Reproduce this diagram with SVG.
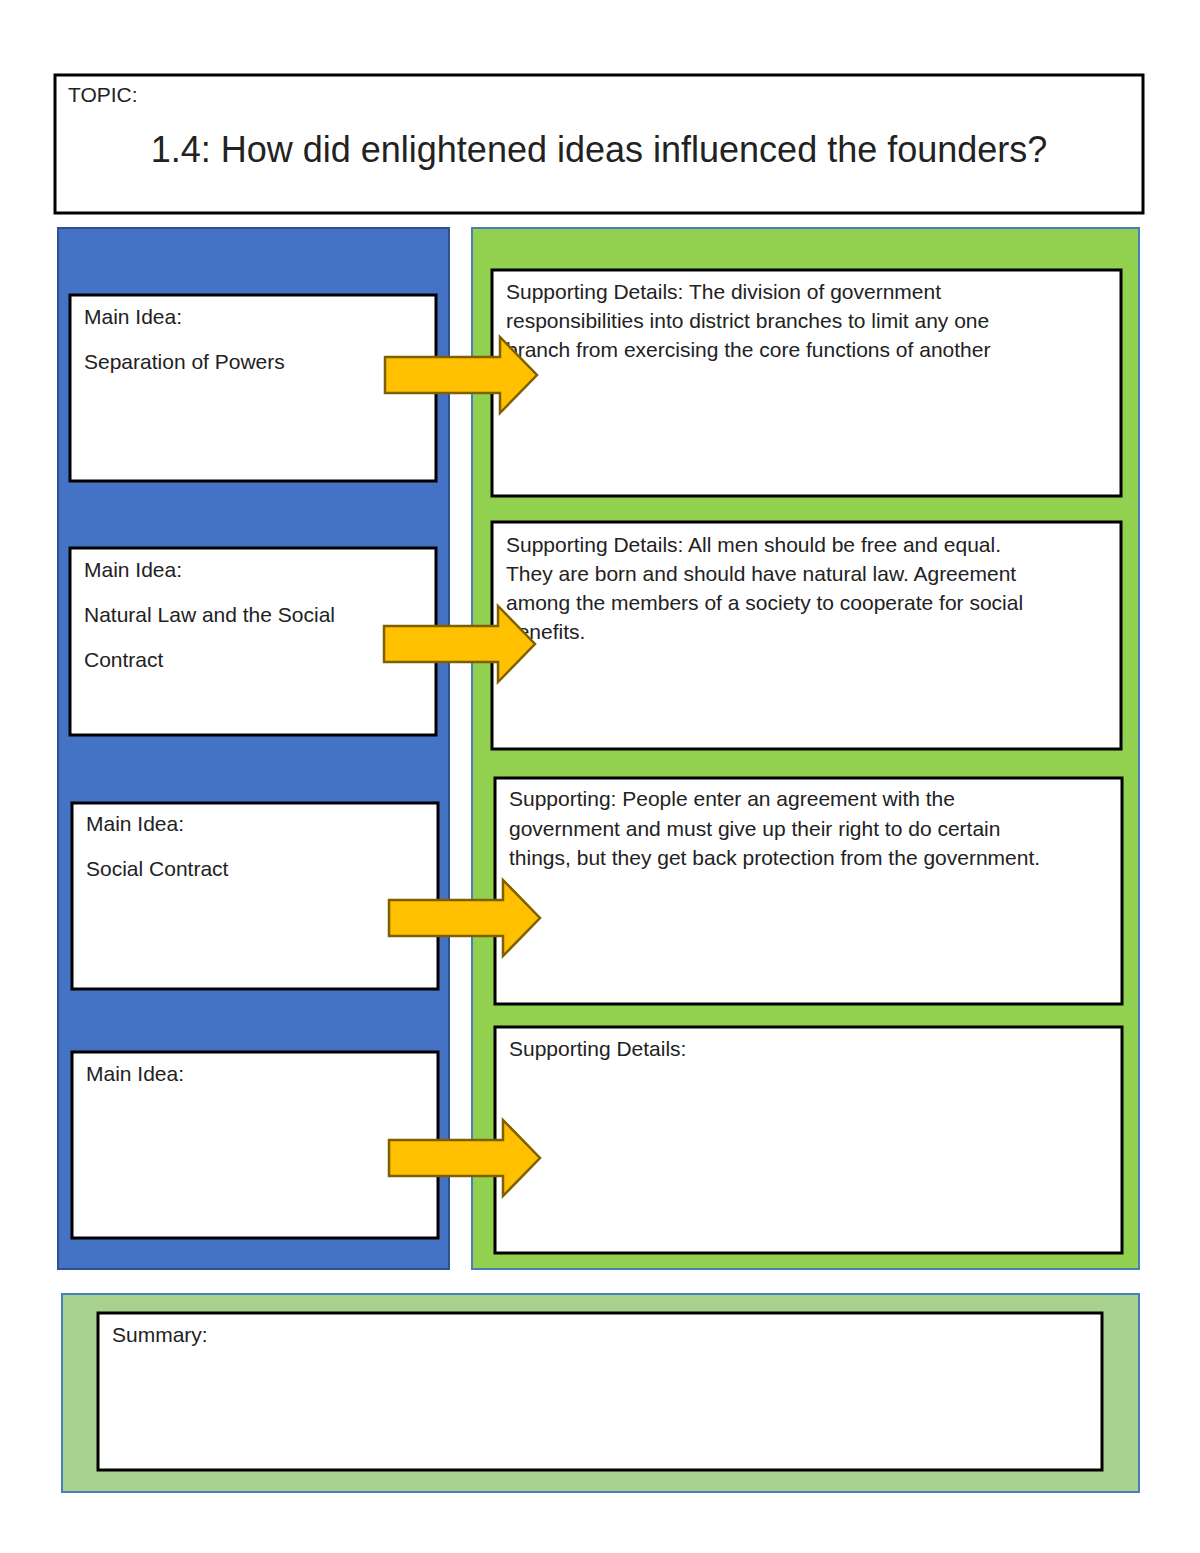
<svg xmlns="http://www.w3.org/2000/svg" width="1200" height="1553" viewBox="0 0 1200 1553">
<style>
.box{fill:#fff;stroke:#000;stroke-width:3}
.t{font-family:"Liberation Sans",Arial,sans-serif;font-size:21px;fill:#222}
.arrow{fill:#ffc000;stroke:#7f6000;stroke-width:2.5}
</style>
<rect width="1200" height="1553" fill="#fff"/>
<g id="topic">
<rect x="55" y="75" width="1088" height="138" class="box"/>
<text x="68" y="102" class="t">TOPIC:</text>
<text x="599" y="162" class="t" style="font-size:36px" text-anchor="middle">1.4: How did enlightened ideas influenced the founders?</text>
</g>
<g id="panels">
<rect x="58" y="228" width="391" height="1041" fill="#4472c4" stroke="#2f528f" stroke-width="2"/>
<rect x="472" y="228" width="667" height="1041" fill="#92d050" stroke="#4a7ebb" stroke-width="2"/>
<rect x="62" y="1294" width="1077" height="198" fill="#a9d18e" stroke="#4a7ebb" stroke-width="2"/>
</g>
<g id="main1"><rect x="70" y="295" width="366" height="186" class="box"/><text x="84" y="324" class="t">Main Idea:</text><text x="84" y="369" class="t">Separation of Powers</text></g>
<g id="main2"><rect x="70" y="548" width="366" height="187" class="box"/><text x="84" y="577" class="t">Main Idea:</text><text x="84" y="622" class="t">Natural Law and the Social</text><text x="84" y="667" class="t">Contract</text></g>
<g id="main3"><rect x="72" y="803" width="366" height="186" class="box"/><text x="86" y="831" class="t">Main Idea:</text><text x="86" y="876" class="t">Social Contract</text></g>
<g id="main4"><rect x="72" y="1052" width="366" height="186" class="box"/><text x="86" y="1081" class="t">Main Idea:</text></g>
<g id="sup1"><rect x="492" y="270" width="629" height="226" class="box"/>
<text class="t"><tspan x="506" y="299">Supporting Details: The division of government</tspan><tspan x="506" y="328">responsibilities into district branches to limit any one</tspan><tspan x="506" y="357">branch from exercising the core functions of another</tspan></text></g>
<g id="sup2"><rect x="492" y="522" width="629" height="227" class="box"/>
<text class="t"><tspan x="506" y="552">Supporting Details: All men should be free and equal.</tspan><tspan x="506" y="581">They are born and should have natural law. Agreement</tspan><tspan x="506" y="610">among the members of a society to cooperate for social</tspan><tspan x="506" y="639">benefits.</tspan></text></g>
<g id="sup3"><rect x="495" y="778" width="627" height="226" class="box"/>
<text class="t"><tspan x="509" y="806">Supporting: People enter an agreement with the</tspan><tspan x="509" y="836">government and must give up their right to do certain</tspan><tspan x="509" y="865">things, but they get back protection from the government.</tspan></text></g>
<g id="sup4"><rect x="495" y="1027" width="627" height="226" class="box"/><text x="509" y="1056" class="t">Supporting Details:</text></g>
<g id="summary"><rect x="98" y="1313" width="1004" height="157" class="box"/><text x="112" y="1342" class="t">Summary:</text></g>
<g id="connectors">
<polygon class="arrow" points="385,357 500,357 500,337 537,375 500,413 500,393 385,393"/>
<polygon class="arrow" points="384,626 498,626 498,606 535,644 498,682 498,662 384,662"/>
<polygon class="arrow" points="389,900 503,900 503,880 540,918 503,956 503,936 389,936"/>
<polygon class="arrow" points="389,1140 503,1140 503,1120 540,1158 503,1196 503,1176 389,1176"/>
</g>
</svg>
